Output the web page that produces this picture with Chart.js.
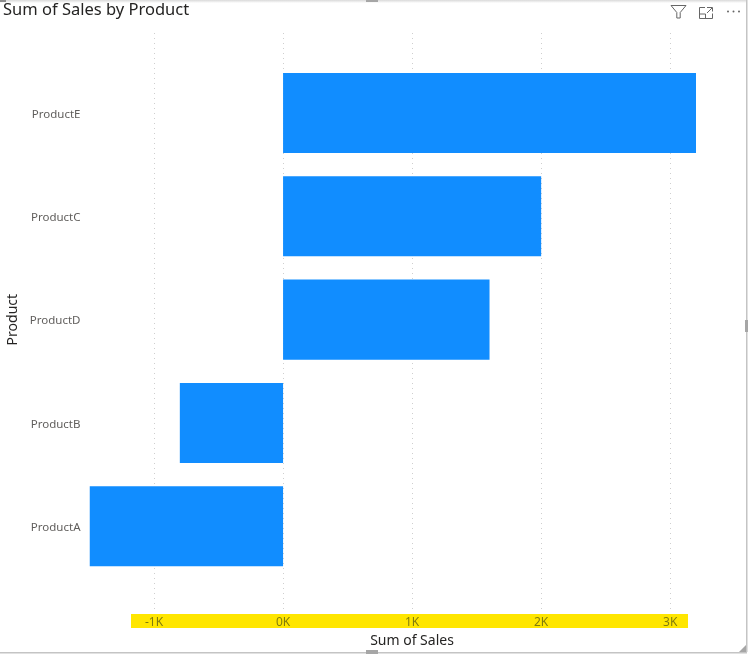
<!DOCTYPE html>
<html><head><meta charset="utf-8">
<script src="https://cdn.jsdelivr.net/npm/chart.js@4"></script>
<style>
html,body{margin:0;padding:0;background:#fff;overflow:hidden}
#wrap{position:relative;width:751px;height:656px}
canvas{position:absolute;left:0;top:0}
svg{position:absolute;left:0;top:0;pointer-events:none}
</style></head><body>
<div id="wrap"><canvas id="c" width="751" height="656"></canvas>
<svg width="751" height="656" viewBox="0 0 751 656">
<defs><linearGradient id="g" x1="0" y1="0" x2="0" y2="1"><stop offset="0" stop-color="#d9d9d9"/><stop offset="1" stop-color="#fff"/></linearGradient></defs>
<rect x="0" y="0" width="746" height="3" fill="url(#g)"/>
<rect x="0" y="0" width="6" height="2" fill="#8c8c8c"/>
<rect x="366" y="0" width="12" height="2" fill="#a6a6a6"/>
<rect x="746" y="0" width="1.5" height="652" fill="#c4c4c4"/>
<rect x="0" y="652" width="747" height="1.5" fill="#c4c4c4"/>
<rect x="366" y="650" width="12" height="4" fill="#a6a6a6"/>
<rect x="745" y="320" width="3" height="12" fill="#a6a6a6"/>
<path d="M739 652h7v-7z" fill="#a6a6a6"/>
<path d="M671 5.500h15l-5.800 7v5.500h-3.400v-5.500z" fill="none" stroke="#666" stroke-width="1"/>
<path d="M705 7.500h-5.500v11h13v-5M707 7.500h5.500v4M699.500 14h6v4.500M707 13l5-5" fill="none" stroke="#666" stroke-width="1"/>
<g fill="#666"><circle cx="728" cy="11.500" r="1"/><circle cx="733.500" cy="11.500" r="1"/><circle cx="739" cy="11.500" r="1"/></g>
</svg></div>
<script>
const categories = ['ProductE','ProductC','ProductD','ProductB','ProductA'];
const salesValues = [3200,2000,1600,-800,-1500];
const xTickValues = [-1000,0,1000,2000,3000];

const frame = {
  id:'frame',
  beforeDraw(chart){
    const {ctx, scales:{x}} = chart;
    ctx.save();
    ctx.fillStyle='#ffe600';
    ctx.fillRect(131,614,557,14);
    ctx.strokeStyle='#cfcfcf';
    ctx.lineWidth=1;
    ctx.setLineDash([1,4]);
    x.ticks.forEach((t,i)=>{
      const px=Math.floor(x.getPixelForTick(i))+0.5;
      ctx.beginPath();ctx.moveTo(px,33);ctx.lineTo(px,610);ctx.stroke();
    });
    ctx.restore();
  },
  afterDraw(chart){
    const {ctx}=chart;
    ctx.save();
    ctx.font='14px "Noto Sans"';
    ctx.fillStyle='#252423';
    ctx.textAlign='center';ctx.textBaseline='middle';
    ctx.fillText('Sum of Sales',412,641);
    ctx.restore();
  }
};

new Chart(document.getElementById('c'),{
  type:'bar',
  plugins:[frame],
  data:{labels:categories,datasets:[{label:'Sum of Sales',data:salesValues,backgroundColor:'#118dff',borderWidth:0,categoryPercentage:1,barPercentage:0.775}]},
  options:{
    indexAxis:'y',
    responsive:false,
    animation:false,
    layout:{padding:{left:3,right:55,top:0,bottom:0}},
    plugins:{
      legend:{display:false},
      tooltip:{enabled:false},
      title:{display:true,text:'Sum of Sales by Product',align:'start',color:'#252423',
        font:{family:'"Noto Sans"',size:16.5,weight:'normal'},padding:{top:0,bottom:41.5}}
    },
    scales:{
      x:{min:-1500,max:3200,
        border:{display:false},
        grid:{display:false,drawTicks:false},
        afterFit(s){s.height=78;},
        afterBuildTicks(s){s.ticks=xTickValues.map(v=>({value:v}));},
        ticks:{autoSkip:false,maxRotation:0,padding:37,color:'#807c0c',
          font:{family:'"Noto Sans"',size:12},
          callback:v=>(v/1000)+'K'}},
      y:{
        border:{display:false},
        grid:{display:false,drawTicks:false},
        afterFit(s){s.width=86.5;},
        title:{display:true,text:'Product',color:'#252423',font:{family:'"Noto Sans"',size:14},padding:{top:2,bottom:0}},
        ticks:{padding:9,labelOffset:1.5,color:'#605e5c',font:{family:'"Noto Sans"',size:11.5}}}
    }
  }
});
</script></body></html>
